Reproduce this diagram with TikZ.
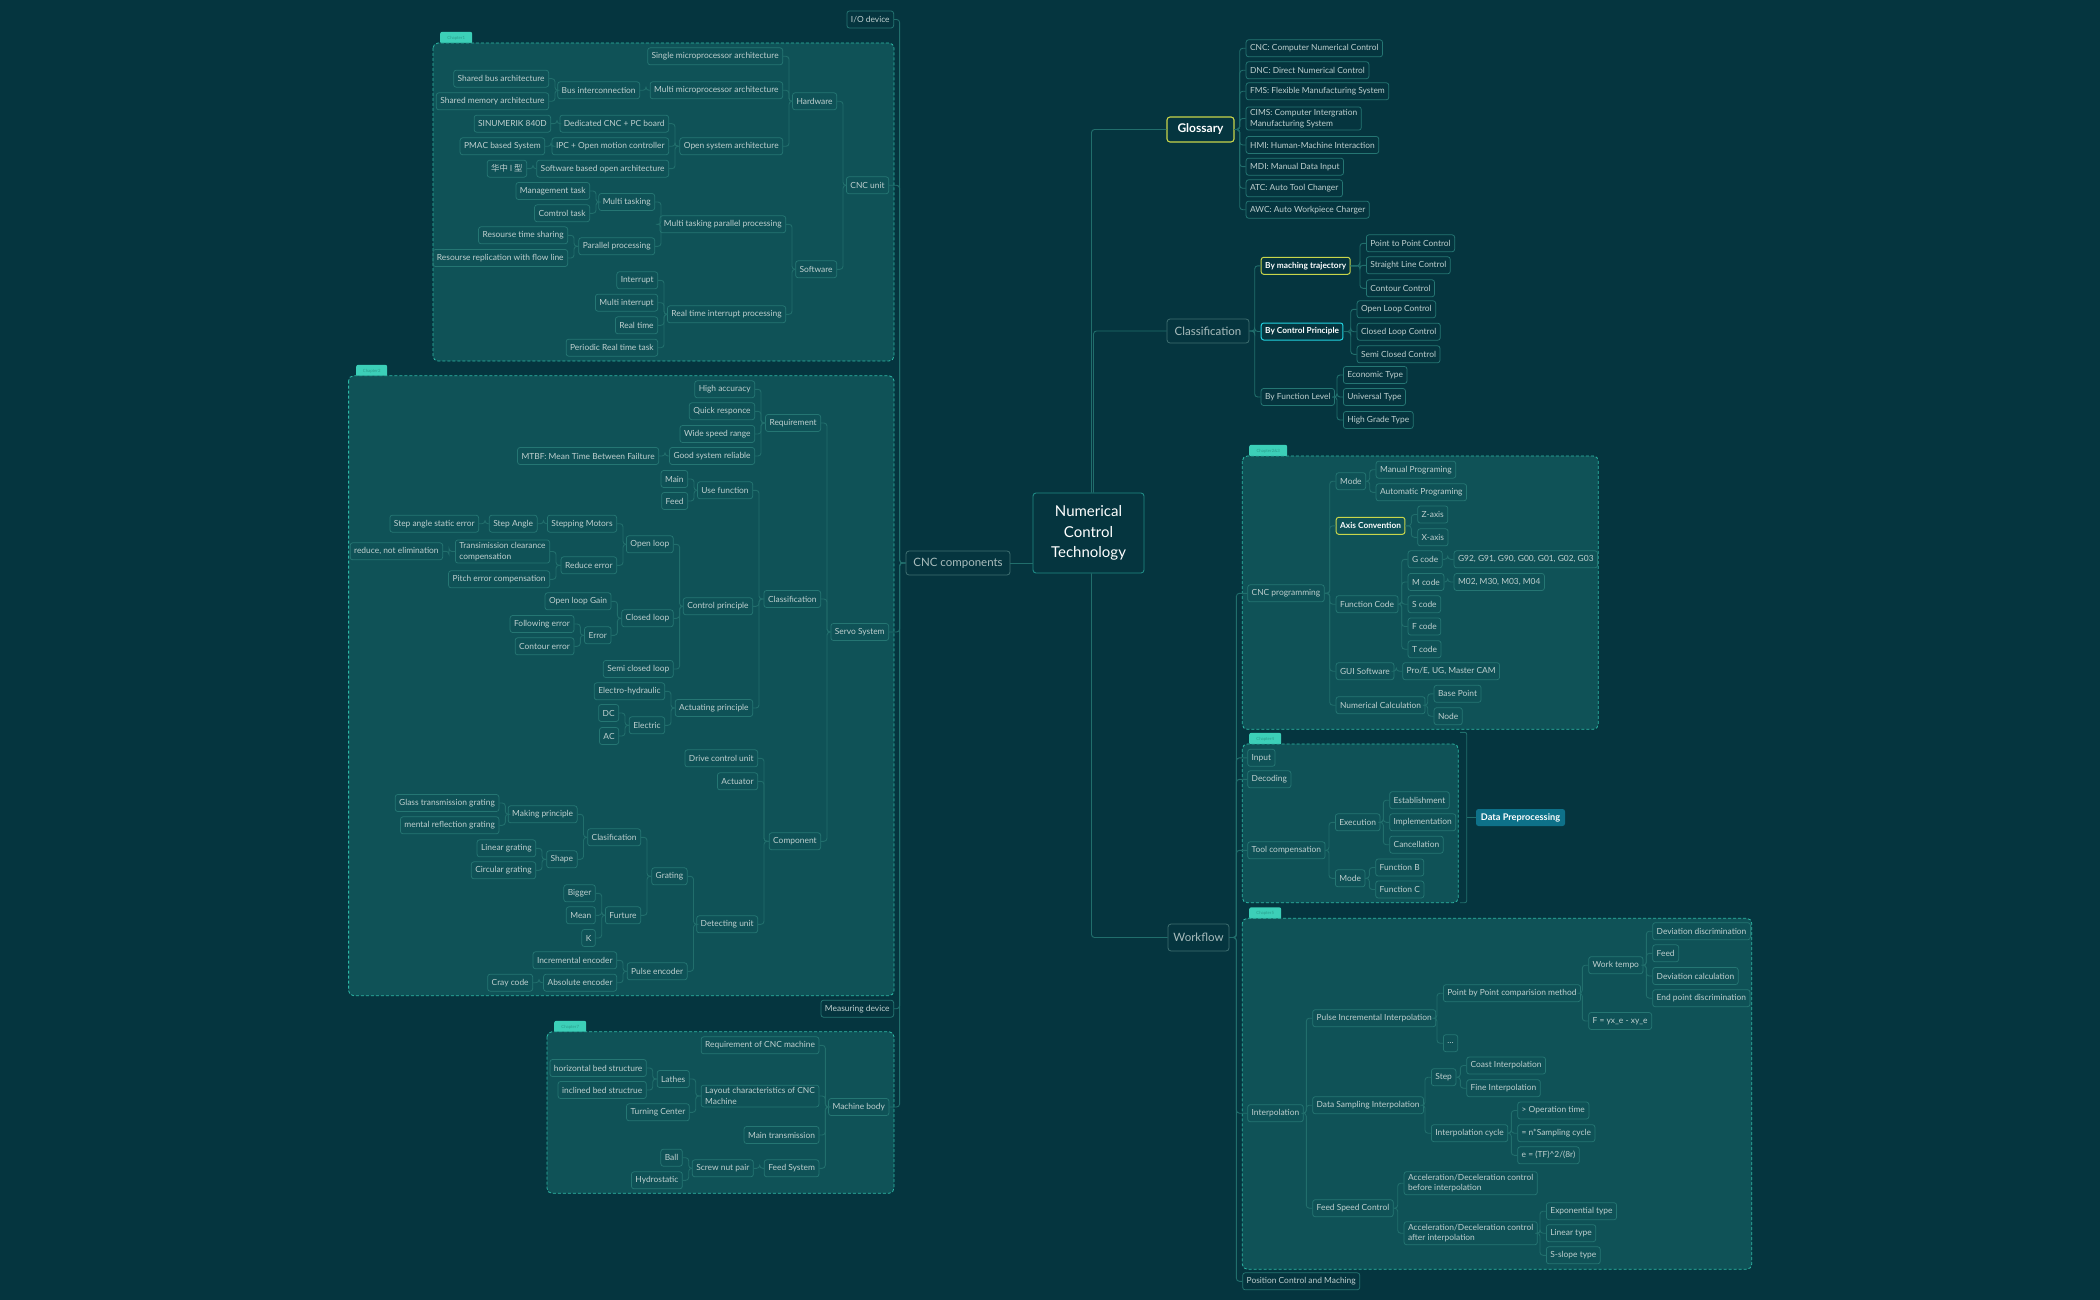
\documentclass[tikz,border=0pt]{standalone}
\usepackage{fontspec}
\setmainfont{Lato}
\newfontfamily\cjk{Noto Sans CJK SC}
\definecolor{bgc}{HTML}{05353F}
\definecolor{chf}{HTML}{0F5257}
\definecolor{chd}{HTML}{2DB8A5}
\definecolor{ndb}{HTML}{257673}
\definecolor{ndt}{HTML}{BFD0CF}
\definecolor{lnc}{HTML}{216E6C}
\definecolor{tbf}{HTML}{3CCFB8}
\definecolor{tbt}{HTML}{2A9D8C}
\definecolor{hly}{HTML}{C9D64B}
\definecolor{hlc}{HTML}{22D3E0}
\definecolor{mnb}{HTML}{3E6E70}
\definecolor{mnt}{HTML}{A9BDBD}
\definecolor{rtb}{HTML}{1F8A85}
\definecolor{dpf}{HTML}{0E7189}
\newcommand\leaf{\fontsize{8.4}{10.5}\selectfont}
\newcommand\leafb{\fontsize{8.3}{10.5}\selectfont\bfseries}
\newcommand\mainf{\fontsize{11.5}{14}\selectfont}
\newcommand\tabf{\fontsize{4.3}{5}\selectfont}
\newcommand\conL[2]{\draw[conn] (#2.east) -- ++(6,0) |- (#1.west);}
\newcommand\conR[2]{\draw[conn] (#2.west) -- ++(-6,0) |- (#1.east);}
\tikzset{
 nd/.style={draw=ndb, line width=0.75pt, rounded corners=2.5pt, text=ndt, font=\leaf, inner xsep=4pt, inner ysep=2.5pt, minimum height=17pt, align=left},
 L/.style={nd, anchor=east},
 R/.style={nd, anchor=west},
 hl/.style={draw=hly, line width=1pt, text=white, font=\leafb},
 hc/.style={draw=hlc, line width=1pt, text=white, font=\leafb},
 mainnode/.style={draw=mnb, line width=0.8pt, rounded corners=3pt, text=mnt, font=\mainf, inner sep=0pt, minimum height=24pt},
 conn/.style={draw=lnc, line width=0.9pt, rounded corners=3pt},
 chap/.style={fill=chf, draw=chd, dashed, dash pattern=on 3pt off 2pt, line width=0.8pt, rounded corners=5pt},
 tab/.style={fill=tbf, rounded corners=2pt, text=tbt, font=\tabf, inner sep=1pt, minimum height=12pt, anchor=south west},
}
\begin{document}
\begin{tikzpicture}[x=1pt,y=-1pt]
\fill[bgc] (0,0) rectangle (2100,1300);
\useasboundingbox (0,0) rectangle (2100,1300);
% chapter boxes
\node[tab, minimum width=32pt] (t1) at (440,44) {Chapter1};
\draw[chap] (433,43) rectangle (894,361);
\node[tab, minimum width=31pt] (t2) at (356,377) {Chapter2};
\draw[chap] (348.6,375.7) rectangle (894,995.7);
\node[tab, minimum width=32pt] (t7) at (554,1033) {Chapter7};
\draw[chap] (547,1031.7) rectangle (894,1193.3);
\node[tab, minimum width=38pt] (t23) at (1249,457) {Chapter2\&3};
\draw[chap] (1242.3,456) rectangle (1598.3,729.3);
\node[tab, minimum width=32pt] (t4) at (1249,745) {Chapter4};
\draw[chap] (1242.3,744) rectangle (1458.3,902.7);
\node[tab, minimum width=32pt] (t5) at (1249,919.5) {Chapter5};
\draw[chap] (1242.3,918.3) rectangle (1751.7,1269.3);

% root and main branches
\node[draw=rtb, line width=0.9pt, rounded corners=3pt, fill=bgc, text=white, align=center, font=\fontsize{15}{20.5}\selectfont, minimum width=111pt, minimum height=80pt, inner sep=0pt] (root) at (1088.5,533) {Numerical\\Control\\Technology};
\node[mainnode, minimum width=104pt] (cncc) at (958,563) {CNC components};
\node[mainnode, minimum width=82pt] (clas) at (1208,331) {Classification};
\node[mainnode, minimum width=61pt, minimum height=27pt] (wf) at (1198.5,937.5) {Workflow};
\node[mainnode, draw=hly, line width=1.1pt, text=white, font=\fontsize{12}{14}\selectfont\bfseries, minimum width=67pt, minimum height=25pt] (gloss) at (1200.5,129.5) {Glossary};

% ---- CNC components, left side
\node[L] (io) at (894,19.5) {I/O device};
\node[L] (cncu) at (889,185.3) {CNC unit};
\node[L] (hw) at (837,101.3) {Hardware};
\node[L] (sw) at (837,269.3) {Software};
\node[L] (smp) at (783,56.3) {Single microprocessor architecture};
\node[L] (mmp) at (783,90.3) {Multi microprocessor architecture};
\node[L] (osa) at (783,146.3) {Open system architecture};
\node[L] (busi) at (640,90.3) {Bus interconnection};
\node[L] (sba) at (549,78.7) {Shared bus architecture};
\node[L] (sma) at (549,101.3) {Shared memory architecture};
\node[L] (dcpc) at (669,123.7) {Dedicated CNC + PC board};
\node[L] (ipc) at (669,146.3) {IPC + Open motion controller};
\node[L] (sboa) at (669,168.7) {Software based open architecture};
\node[L] (sinu) at (551,123.7) {SINUMERIK 840D};
\node[L] (pmac) at (545,146.3) {PMAC based System};
\node[L] (hz) at (527,168.7) {\cjk 华中 I 型};
\node[L] (mtpp) at (786,224.3) {Multi tasking parallel processing};
\node[L] (rtip) at (786,314.3) {Real time interrupt processing};
\node[L] (mt) at (655,202) {Multi tasking};
\node[L] (pp) at (655,246.3) {Parallel processing};
\node[L] (mgt) at (590,191) {Management task};
\node[L] (ctt) at (590,213.3) {Comtrol task};
\node[L] (rts) at (568,235.3) {Resourse time sharing};
\node[L] (rrf) at (568,258) {Resourse replication with flow line};
\node[L] (intr) at (658,280.3) {Interrupt};
\node[L] (mint) at (658,302.7) {Multi interrupt};
\node[L] (rt) at (658,325.3) {Real time};
\node[L] (prt) at (658,347.7) {Periodic Real time task};

\node[L] (servo) at (889,632) {Servo System};
\node[L] (req) at (821,423) {Requirement};
\node[L] (cls) at (821,599) {Classification};
\node[L] (comp) at (821,841.3) {Component};
\node[L] (ha) at (755,389.3) {High accuracy};
\node[L] (qr) at (755,411.3) {Quick responce};
\node[L] (wsr) at (755,434) {Wide speed range};
\node[L] (gsr) at (755,456) {Good system reliable};
\node[L] (mtbf) at (659,456) {MTBF: Mean Time Between Failture};
\node[L] (usef) at (753,490.3) {Use function};
\node[L] (mainn) at (688,479) {Main};
\node[L] (feeda) at (688,501) {Feed};
\node[L] (ctrlp) at (753,606.3) {Control principle};
\node[L] (olp) at (673.6,544.3) {Open loop};
\node[L] (smot) at (617,523.7) {Stepping Motors};
\node[L] (sang) at (537.5,523.7) {Step Angle};
\node[L] (sase) at (479,523.7) {Step angle static error};
\node[L] (rerr) at (617,565.3) {Reduce error};
\node[L] (tcc) at (550,551.5) {Transimission clearance\\compensation};
\node[L] (rne) at (443,551.3) {reduce, not elimination};
\node[L] (pec) at (550,579.3) {Pitch error compensation};
\node[L] (clp) at (673.6,618.3) {Closed loop};
\node[L] (olg) at (611.4,601.3) {Open loop Gain};
\node[L] (err) at (611.4,635.3) {Error};
\node[L] (fle) at (574.3,624) {Following error};
\node[L] (cte) at (574.3,646.3) {Contour error};
\node[L] (scl) at (673.6,669) {Semi closed loop};
\node[L] (actp) at (753,708) {Actuating principle};
\node[L] (ehy) at (665,691.3) {Electro-hydraulic};
\node[L] (elec) at (665,725.3) {Electric};
\node[L] (dc) at (619,713) {DC};
\node[L] (ac) at (619,736) {AC};
\node[L] (dcu) at (758,758.3) {Drive control unit};
\node[L] (actu) at (758,781.3) {Actuator};
\node[L] (detu) at (758,924.3) {Detecting unit};
\node[L] (grat) at (687.5,876.3) {Grating};
\node[L] (pule) at (687.5,971.3) {Pulse encoder};
\node[L] (clsf) at (641,837.3) {Clasification};
\node[L] (furt) at (641,915.3) {Furture};
\node[L] (mkp) at (577.5,814.3) {Making principle};
\node[L] (shp) at (577.5,859.3) {Shape};
\node[L] (gtg) at (499.3,803) {Glass transmission grating};
\node[L] (mrg) at (499.3,825.3) {mental reflection grating};
\node[L] (lg) at (536,848.3) {Linear grating};
\node[L] (cg) at (536,870.3) {Circular grating};
\node[L] (big) at (595.7,893.3) {Bigger};
\node[L] (mean) at (595.7,915.3) {Mean};
\node[L] (kk) at (595.7,938) {K};
\node[L] (ince) at (617,960.3) {Incremental encoder};
\node[L] (abse) at (617,982.7) {Absolute encoder};
\node[L] (gray) at (533,982.7) {Cray code};
\node[L] (meas) at (894,1008.7) {Measuring device};

\node[L] (mbody) at (889.3,1107) {Machine body};
\node[L] (rcnc) at (819.3,1045.3) {Requirement of CNC machine};
\node[L] (layout) at (819.3,1096) {Layout characteristics of CNC\\Machine};
\node[L] (mtr) at (819.3,1135) {Main transmission};
\node[L] (fsys) at (819.3,1168.3) {Feed System};
\node[L] (lathes) at (689.7,1079) {Lathes};
\node[L] (tcen) at (689.7,1112.3) {Turning Center};
\node[L] (hbs) at (646.7,1068) {horizontal bed structure};
\node[L] (ibs) at (646.7,1090) {inclined bed structrue};
\node[L] (snp) at (753.7,1168.3) {Screw nut pair};
\node[L] (ball) at (682.7,1157.7) {Ball};
\node[L] (hyd) at (682.7,1180.3) {Hydrostatic};

% ---- Glossary
\node[R] (ga) at (1245.7,48.3) {CNC: Computer Numerical Control};
\node[R] (gb) at (1245.7,70.3) {DNC: Direct Numerical Control};
\node[R] (gc) at (1245.7,91.3) {FMS: Flexible Manufacturing System};
\node[R] (gd) at (1245.7,118.5) {CIMS: Computer Intergration\\Manufacturing System};
\node[R] (ge) at (1245.7,145) {HMI: Human-Machine Interaction};
\node[R] (gf) at (1245.7,166.7) {MDI: Manual Data Input};
\node[R] (gg) at (1245.7,188.3) {ATC: Auto Tool Changer};
\node[R] (gh) at (1245.7,209.7) {AWC: Auto Workpiece Charger};

% ---- Classification
\node[R, hl] (bmt) at (1260.7,265.8) {By maching trajectory};
\node[R, hc] (bcp) at (1260.7,331.5) {By Control Principle};
\node[R] (bfl) at (1260.7,397) {By Function Level};
\node[R] (ptp) at (1366,243.3) {Point to Point Control};
\node[R] (slc) at (1366,265.3) {Straight Line Control};
\node[R] (ctc) at (1366,288.3) {Contour Control};
\node[R] (olc) at (1356.7,309.3) {Open Loop Control};
\node[R] (clc) at (1356.7,331.7) {Closed Loop Control};
\node[R] (scc) at (1356.7,354.3) {Semi Closed Control};
\node[R] (ect) at (1343,375) {Economic Type};
\node[R] (unt) at (1343,397) {Universal Type};
\node[R] (hgt) at (1343,420) {High Grade Type};

% ---- Workflow: Chapter 2&3
\node[R] (cncp) at (1247.3,593.3) {CNC programming};
\node[R] (modea) at (1335.7,481.2) {Mode};
\node[R] (mprog) at (1375.7,469.7) {Manual Programing};
\node[R] (aprog) at (1375.7,492.3) {Automatic Programing};
\node[R, hl] (axis) at (1335.7,525.8) {Axis Convention};
\node[R] (za) at (1417.3,514.5) {Z-axis};
\node[R] (xa) at (1417.3,537.3) {X-axis};
\node[R] (fcode) at (1335.7,604.2) {Function Code};
\node[R] (gcd) at (1407.7,559.3) {G code};
\node[R] (gcl) at (1453.7,559.3) {G92, G91, G90, G00, G01, G02, G03};
\node[R] (mcd) at (1407.7,582) {M code};
\node[R] (mcl) at (1453.7,582) {M02, M30, M03, M04};
\node[R] (scd) at (1407.7,604.2) {S code};
\node[R] (fcd) at (1407.7,626.5) {F code};
\node[R] (tcd) at (1407.7,649.2) {T code};
\node[R] (gui) at (1335.7,671.2) {GUI Software};
\node[R] (pro) at (1402.3,671.2) {Pro/E, UG, Master CAM};
\node[R] (ncal) at (1335.7,705.2) {Numerical Calculation};
\node[R] (bpt) at (1433.7,693.8) {Base Point};
\node[R] (nde) at (1433.7,716.2) {Node};

% ---- Chapter 4
\node[R] (inp) at (1247.3,757.8) {Input};
\node[R] (dec) at (1247.3,779.3) {Decoding};
\node[R] (tcomp) at (1247.3,850.3) {Tool compensation};
\node[R] (exe) at (1335,822.3) {Execution};
\node[R] (est) at (1389.3,800.2) {Establishment};
\node[R] (imp) at (1389.3,822.3) {Implementation};
\node[R] (can) at (1389.3,844.7) {Cancellation};
\node[R] (modeb) at (1335,878.3) {Mode};
\node[R] (fnb) at (1375.3,867.5) {Function B};
\node[R] (fnc) at (1375.3,889.5) {Function C};
\node[fill=dpf, rounded corners=2.5pt, text=white, font=\fontsize{9.2}{11}\selectfont\bfseries, inner sep=0pt, minimum width=89pt, minimum height=17pt] (dp) at (1520.5,817.5) {Data Preprocessing};

% ---- Chapter 5
\node[R] (interp) at (1247.3,1113.2) {Interpolation};
\node[R] (pii) at (1312.3,1018.2) {Pulse Incremental Interpolation};
\node[R] (pbp) at (1443,993.2) {Point by Point comparision method};
\node[R] (wt) at (1588.3,965.2) {Work tempo};
\node[R] (ddis) at (1652.3,931.2) {Deviation discrimination};
\node[R] (feedb) at (1652.3,953.3) {Feed};
\node[R] (dcal) at (1652.3,976) {Deviation calculation};
\node[R] (epd) at (1652.3,998.2) {End point discrimination};
\node[R] (fyx) at (1588.3,1021) {F = yx\_e - xy\_e};
\node[R] (ell) at (1443,1043.2) {…};
\node[R] (dsi) at (1312.3,1105.2) {Data Sampling Interpolation};
\node[R] (stp) at (1431,1077.2) {Step};
\node[R] (coi) at (1466.3,1065.5) {Coast Interpolation};
\node[R] (fin) at (1466.3,1088.2) {Fine Interpolation};
\node[R] (icy) at (1431,1133.2) {Interpolation cycle};
\node[R] (opt) at (1517.3,1110.5) {> Operation time};
\node[R] (nsc) at (1517.3,1133.2) {= n*Sampling cycle};
\node[R] (efm) at (1517.3,1155.3) {e = (TF)\textasciicircum 2/(8r)};
\node[R] (fsc) at (1312.3,1208.2) {Feed Speed Control};
\node[R] (adb) at (1403.7,1183.2) {Acceleration/Deceleration control\\before interpolation};
\node[R] (ada) at (1403.7,1233.2) {Acceleration/Deceleration control\\after interpolation};
\node[R] (ext) at (1546,1211.2) {Exponential type};
\node[R] (lit) at (1546,1233.2) {Linear type};
\node[R] (sst) at (1546,1255.3) {S-slope type};
\node[R] (pcm) at (1242.3,1281.3) {Position Control and Maching};

% ================= connectors
\draw[conn] (cncc.east) -- (cncc.east -| root.west);
\draw[conn] ([xshift=3pt]root.north) |- (gloss.west);
\draw[conn] ([xshift=5pt]root.north) |- (clas.west);
\draw[conn] ([xshift=3pt]root.south) |- (wf.west);
\foreach \c in {io,cncu,servo,meas,mbody} {\draw[conn] (cncc.west) -- ++(-6,0) |- (\c.east);}
% CNC unit
\conL{cncu}{hw} \conL{cncu}{sw}
\conL{hw}{smp} \conL{hw}{mmp} \conL{hw}{osa}
\conL{mmp}{busi} \conL{busi}{sba} \conL{busi}{sma}
\conL{osa}{dcpc} \conL{osa}{ipc} \conL{osa}{sboa}
\conL{dcpc}{sinu} \conL{ipc}{pmac} \conL{sboa}{hz}
\conL{sw}{mtpp} \conL{sw}{rtip}
\conL{mtpp}{mt} \conL{mtpp}{pp}
\conL{mt}{mgt} \conL{mt}{ctt} \conL{pp}{rts} \conL{pp}{rrf}
\conL{rtip}{intr} \conL{rtip}{mint} \conL{rtip}{rt} \conL{rtip}{prt}
% Servo
\conL{servo}{req} \conL{servo}{cls} \conL{servo}{comp}
\conL{req}{ha} \conL{req}{qr} \conL{req}{wsr} \conL{req}{gsr} \conL{gsr}{mtbf}
\conL{cls}{usef} \conL{cls}{ctrlp} \conL{cls}{actp}
\conL{usef}{mainn} \conL{usef}{feeda}
\conL{ctrlp}{olp} \conL{ctrlp}{clp} \conL{ctrlp}{scl}
\conL{olp}{smot} \conL{olp}{rerr} \conL{smot}{sang} \conL{sang}{sase}
\conL{rerr}{tcc} \conL{rerr}{pec} \conL{tcc}{rne}
\conL{clp}{olg} \conL{clp}{err} \conL{err}{fle} \conL{err}{cte}
\conL{actp}{ehy} \conL{actp}{elec} \conL{elec}{dc} \conL{elec}{ac}
\conL{comp}{dcu} \conL{comp}{actu} \conL{comp}{detu}
\conL{detu}{grat} \conL{detu}{pule}
\conL{grat}{clsf} \conL{grat}{furt}
\conL{clsf}{mkp} \conL{clsf}{shp}
\conL{mkp}{gtg} \conL{mkp}{mrg} \conL{shp}{lg} \conL{shp}{cg}
\conL{furt}{big} \conL{furt}{mean} \conL{furt}{kk}
\conL{pule}{ince} \conL{pule}{abse} \conL{abse}{gray}
% Machine body
\conL{mbody}{rcnc} \conL{mbody}{layout} \conL{mbody}{mtr} \conL{mbody}{fsys}
\conL{layout}{lathes} \conL{layout}{tcen} \conL{lathes}{hbs} \conL{lathes}{ibs}
\conL{fsys}{snp} \conL{snp}{ball} \conL{snp}{hyd}
% Glossary / Classification
\foreach \c in {ga,gb,gc,gd,ge,gf,gg,gh} {\conR{gloss}{\c}}
\conR{clas}{bmt} \conR{clas}{bcp} \conR{clas}{bfl}
\conR{bmt}{ptp} \conR{bmt}{slc} \conR{bmt}{ctc}
\conR{bcp}{olc} \conR{bcp}{clc} \conR{bcp}{scc}
\conR{bfl}{ect} \conR{bfl}{unt} \conR{bfl}{hgt}
% Workflow
\foreach \c in {cncp,inp,dec,tcomp,interp,pcm} {\draw[conn] (wf.east) -- ++(7,0) |- (\c.west);}
\conR{cncp}{modea} \conR{cncp}{axis} \conR{cncp}{fcode} \conR{cncp}{gui} \conR{cncp}{ncal}
\conR{modea}{mprog} \conR{modea}{aprog} \conR{axis}{za} \conR{axis}{xa}
\conR{fcode}{gcd} \conR{fcode}{mcd} \conR{fcode}{scd} \conR{fcode}{fcd} \conR{fcode}{tcd}
\conR{gcd}{gcl} \conR{mcd}{mcl} \conR{gui}{pro}
\conR{ncal}{bpt} \conR{ncal}{nde}
\conR{tcomp}{exe} \conR{tcomp}{modeb}
\conR{exe}{est} \conR{exe}{imp} \conR{exe}{can}
\conR{modeb}{fnb} \conR{modeb}{fnc}
\coordinate (bra) at (1460,732.3);
\coordinate (brb) at (1460,902.7);
\coordinate (brm) at (1466.7,817.5);
\draw[conn, rounded corners=2pt] (bra) -- (1466.7,732.3) -- (1466.7,902.7) -- (brb);
\draw[conn] (brm) -- (dp.west);
\conR{interp}{pii} \conR{interp}{dsi} \conR{interp}{fsc}
\conR{pii}{pbp} \conR{pii}{ell}
\conR{pbp}{wt} \conR{pbp}{fyx}
\conR{wt}{ddis} \conR{wt}{feedb} \conR{wt}{dcal} \conR{wt}{epd}
\conR{dsi}{stp} \conR{dsi}{icy}
\conR{stp}{coi} \conR{stp}{fin}
\conR{icy}{opt} \conR{icy}{nsc} \conR{icy}{efm}
\conR{fsc}{adb} \conR{fsc}{ada}
\conR{ada}{ext} \conR{ada}{lit} \conR{ada}{sst}
\end{tikzpicture}
\end{document}
